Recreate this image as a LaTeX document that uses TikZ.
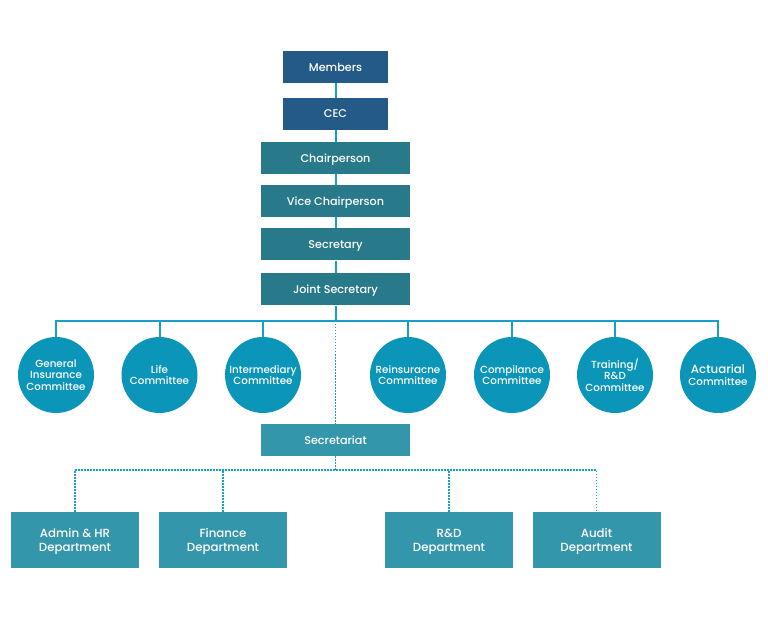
\documentclass[tikz,border=0pt]{standalone}
\usepackage{fontspec}
\setmainfont{Poppins Medium}
\usetikzlibrary{positioning,calc}
\definecolor{topblue}{RGB}{36,90,135}
\definecolor{teal}{RGB}{40,122,138}
\definecolor{lightteal}{RGB}{52,150,170}
\definecolor{circ}{RGB}{11,150,185}
\definecolor{wire}{RGB}{22,160,196}

\begin{document}
\begin{tikzpicture}[x=1pt,y=-1pt,
    box/.style={draw=none,text=white,minimum height=32pt,align=center,
      font=\fontsize{11.2}{13}\selectfont,inner sep=0pt,text depth=0pt,yshift=-1pt},
    topb/.style={box,fill=topblue,minimum width=105pt},
    midb/.style={box,fill=teal,minimum width=149pt},
    secb/.style={box,fill=lightteal,minimum width=149pt},
    dept/.style={box,fill=lightteal,minimum width=128pt,minimum height=56pt,
      font=\fontsize{11.8}{14}\selectfont},
    comm/.style={circle,fill=circ,text=white,minimum size=76pt,inner sep=0pt,
      align=center,font=\fontsize{10.3}{11.5}\selectfont},
    conn/.style={draw=wire,line width=2pt},
    dots/.style={draw=wire,line width=1.5pt,dash pattern=on 1.5pt off 1.5pt}]
  \useasboundingbox (0,0) rectangle (768,617);
  % chain of officers
  \node[topb] (members) at (335.5,66) {Members};
  \node[topb] (cec) at (335.5,113) {CEC};
  \node[midb] (chair) at (335.5,157) {Chairperson};
  \node[midb] (vice) at (335.5,200) {Vice Chairperson};
  \node[midb] (sec) at (335.5,243.5) {Secretary};
  \node[midb] (jsec) at (335.5,288.5) {Joint Secretary};
  \coordinate (bus) at (335.5,321);

  % committees
  \node[comm] (gic) at (56,375) {General\\Insurance\\Committee};
  \node[comm] (life) at (159.5,375) {Life\\Committee};
  \node[comm] (inter) at (263,375) {Intermediary\\Committee};
  \node[comm] (reins) at (408,375) {Reinsuracne\\Committee};
  \node[comm] (compl) at (512,375) {Compilance\\Committee};
  \node[comm] (train) at (615,375) {Training/\\R\&D\\Committee};
  \node[comm] (act) at (718,375) {{\fontsize{11.8}{12}\selectfont Actuarial}\\Committee};

  % secretariat and departments
  \node[secb] (secr) at (335.5,439) {Secretariat};
  \coordinate (dbus) at (335.5,470);
  \node[dept] (admin) at (75,539) {Admin \& HR\\Department};
  \node[dept] (fin) at (223,539) {Finance\\Department};
  \node[dept] (rnd) at (449,539) {R\&D\\Department};
  \node[dept] (audit) at (596.5,539) {Audit\\Department};

  \draw[conn] (members) -- (cec);
  \draw[conn] (cec) -- (chair);
  \draw[conn] (chair) -- (vice);
  \draw[conn] (vice) -- (sec);
  \draw[conn] (sec) -- (jsec);
  \draw[conn] (jsec) -- (bus);
  \draw[conn] (gic.north) -- (gic.north |- bus) -- (act.north |- bus) -- (act.north);
  \foreach \c in {life,inter,reins,compl,train}
    \draw[conn] (\c.north) -- (\c.north |- bus);

  \draw[dots] (bus) -- (secr);
  \draw[dots] (secr) -- (dbus);
  \draw[dots] (admin.north) -- (admin.north |- dbus) -- (audit.north |- dbus) -- (audit.north);
  \draw[dots] (fin.north) -- (fin.north |- dbus);
  \draw[dots] (rnd.north) -- (rnd.north |- dbus);
\end{tikzpicture}
\end{document}
